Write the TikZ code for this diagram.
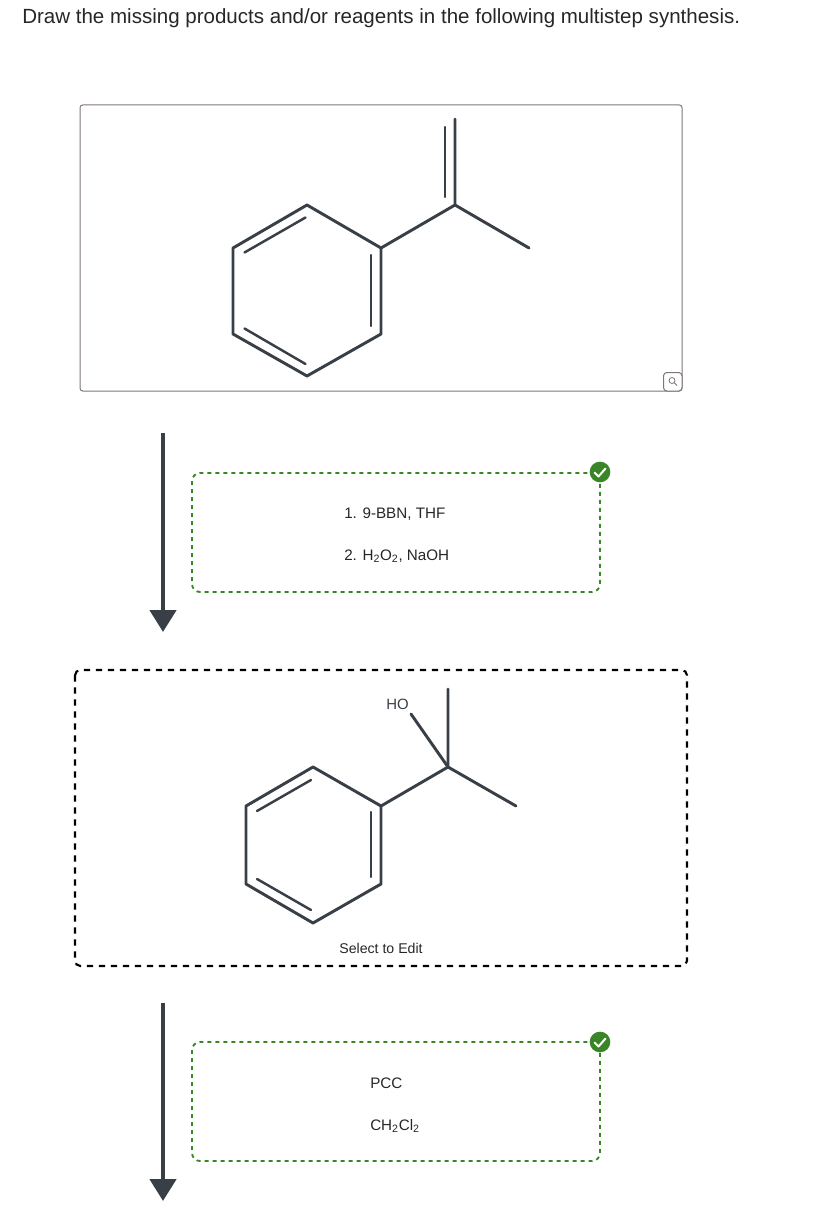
\documentclass[tikz,border=0pt]{standalone}
\usepackage{fontspec}
\setmainfont{Liberation Sans}
\usetikzlibrary{arrows.meta}
\definecolor{bond}{HTML}{393F47}
\definecolor{okgreen}{HTML}{3A8527}
\definecolor{framegray}{HTML}{7F7678}
\tikzset{
  x=0.75pt,y=-0.75pt,
  bondline/.style={draw=bond,line width=2.2pt,line cap=round,line join=round},
  innerbond/.style={draw=bond,line width=1.85pt,line cap=round},
  flowarrow/.style={draw=bond,line width=3.5pt,-{Triangle[length=16.5pt,width=19.5pt]}},
  molbox/.style={draw=framegray,line width=0.75pt,rounded corners=2pt},
  answerbox/.style={draw=okgreen,line width=1.4pt,dash pattern=on 3pt off 3pt,rounded corners=6pt},
  editbox/.style={draw=black,line width=1.6pt,dash pattern=on 4.8pt off 4.2pt,rounded corners=4pt},
  checkdot/.style={circle,fill=okgreen,minimum size=15.5pt,inner sep=0pt},
  checkmark/.style={draw=white,line width=1.5pt,line cap=round,line join=round},
  zoombtn/.style={draw=framegray,fill=white,line width=0.75pt,rounded corners=2.5pt},
  reagent/.style={font=\fontsize{11.4pt}{13pt}\selectfont,text=black!85,inner sep=0pt,anchor=base west},
  atomlabel/.style={font=\fontsize{11.2pt}{13pt}\selectfont,text=bond,inner sep=0pt},
}
\begin{document}
\begin{tikzpicture}
\useasboundingbox (0,0) rectangle (814,1219);
\node[anchor=base west,inner sep=0pt,font=\fontsize{15.4pt}{18pt}\selectfont,text=black!85] (title) at (22,24) {Draw the missing products and/or reagents in the following multistep synthesis.};

% starting material frame
\draw[molbox] (80,105) rectangle (682,391);
\draw[zoombtn] (663.5,372.5) rectangle (682,391);
\draw[draw=framegray,line width=0.6pt] (672,380.5) circle (3);
\draw[draw=framegray,line width=0.7pt] (674.2,382.7) -- (677,385.5);

% molecule 1
\coordinate (a1) at (307,205);
\coordinate (a2) at (381,248);
\coordinate (a3) at (381,334);
\coordinate (a4) at (307,376);
\coordinate (a5) at (233,334);
\coordinate (a6) at (233,248);
\coordinate (a7) at (455,205);
\coordinate (a8) at (455,119);
\coordinate (a9) at (529,248);
\coordinate (a1i) at (305.5,217.5);
\coordinate (a6i) at (244.5,252.5);
\coordinate (a2i) at (371,255);
\coordinate (a3i) at (371,326);
\coordinate (a4i) at (305.5,364);
\coordinate (a5i) at (244.5,328.5);
\coordinate (a7i) at (445,197);
\coordinate (a8i) at (445,127);
\draw[bondline] (a1)--(a2)--(a3)--(a4)--(a5)--(a6)--cycle;
\draw[bondline] (a2)--(a7)--(a8);
\draw[bondline] (a7)--(a9);
\draw[innerbond] (a6i)--(a1i);
\draw[innerbond] (a2i)--(a3i);
\draw[innerbond] (a5i)--(a4i);
\draw[innerbond] (a7i)--(a8i);

% arrow 1
\coordinate (s1) at (163,433);
\coordinate (e1) at (163,632);
\draw[flowarrow] (s1)--(e1);

% reagents 1
\draw[answerbox] (192,473) rectangle (600,592);
\node[reagent] (r1a) at (344,518) {1. 9-BBN, THF};
\node[reagent] (r1b) at (344,560) {2. H\textsubscript{2}O\textsubscript{2}, NaOH};
\node[checkdot] (c1) at (600,472) {};
\draw[checkmark] (594.5,472.5)--(598.5,476.5)--(605.5,468.5);

% product frame
\draw[editbox] (75,670) rectangle (687,966);

% molecule 2
\coordinate (b1) at (313,767);
\coordinate (b2) at (381,806);
\coordinate (b3) at (381,884);
\coordinate (b4) at (313,923);
\coordinate (b5) at (246,884);
\coordinate (b6) at (246,806);
\coordinate (b7) at (448,767);
\coordinate (b8) at (448,689);
\coordinate (b9) at (516,806);
\coordinate (b10) at (411,714);
\coordinate (b1i) at (311,780);
\coordinate (b6i) at (257,811);
\coordinate (b2i) at (371,812);
\coordinate (b3i) at (371,877);
\coordinate (b4i) at (311,910);
\coordinate (b5i) at (257,879);
\draw[bondline] (b1)--(b2)--(b3)--(b4)--(b5)--(b6)--cycle;
\draw[bondline] (b2)--(b7)--(b8);
\draw[bondline] (b7)--(b9);
\draw[bondline] (b7)--(b10);
\draw[innerbond] (b6i)--(b1i);
\draw[innerbond] (b2i)--(b3i);
\draw[innerbond] (b5i)--(b4i);
\node[atomlabel] (ho) at (397.5,704) {HO};
\node[anchor=base,inner sep=0pt,font=\fontsize{10.6pt}{13pt}\selectfont,text=black!85] (edit) at (381,953.5) {Select to Edit};

% arrow 2
\coordinate (s2) at (163,1003);
\coordinate (e2) at (163,1201);
\draw[flowarrow] (s2)--(e2);

% reagents 2
\draw[answerbox] (192,1042) rectangle (600,1161);
\node[reagent] (r2a) at (370,1088) {PCC};
\node[reagent] (r2b) at (370,1130) {CH\textsubscript{2}Cl\textsubscript{2}};
\node[checkdot] (c2) at (600,1042) {};
\draw[checkmark] (594.5,1042.5)--(598.5,1046.5)--(605.5,1038.5);
\end{tikzpicture}
\end{document}
